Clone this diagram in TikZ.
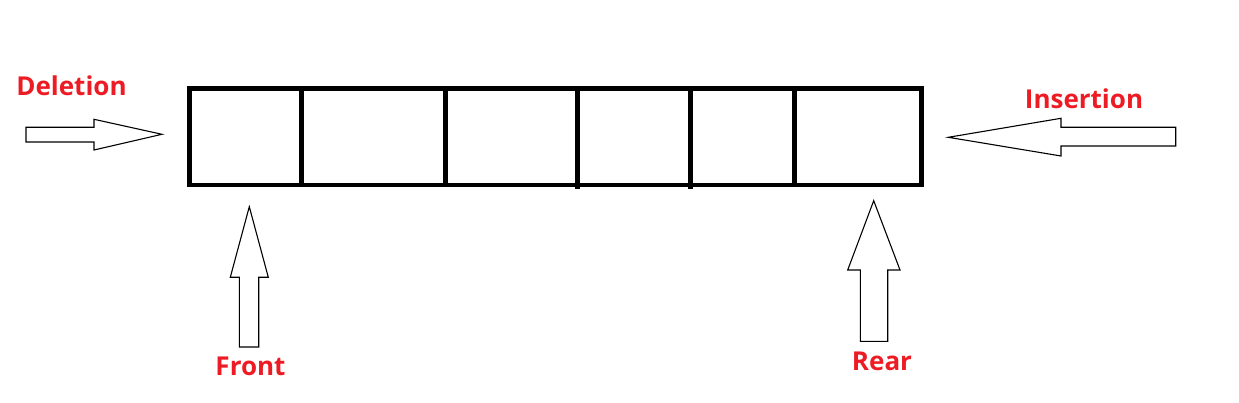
\documentclass[tikz,border=0pt]{standalone}
\usepackage{fontspec}
\setmainfont{Open Sans}
\definecolor{pred}{RGB}{237,28,36}
\begin{document}
\begin{tikzpicture}[x=1pt,y=-1pt,
  lbl/.style={text=pred,font=\fontsize{26}{30}\selectfont\bfseries,anchor=base,inner sep=0pt},
  cellline/.style={line width=4.6pt,line cap=rect},
  fatarrow/.style={draw=black,line width=1.1pt,fill=white,line join=miter}]
\useasboundingbox (0,0) rectangle (1239,403);
% queue
\draw[cellline] (189.7,88.3) rectangle (921.3,185.2);
\draw[cellline,line cap=butt] (301.5,88.3) -- (301.5,185.2);
\draw[cellline,line cap=butt] (445.3,88.3) -- (445.3,185.2);
\draw[cellline,line cap=butt] (577.7,88.3) -- (577.7,189.5);
\draw[cellline,line cap=butt] (690.3,88.3) -- (690.3,189.5);
\draw[cellline,line cap=butt] (794.3,88.3) -- (794.3,185.2);
% deletion arrow (right)
\draw[fatarrow] (26,127.3) -- (94,127.3) -- (94,119.3) -- (162,134.3) -- (94,150) -- (94,142) -- (26,142) -- cycle;
% insertion arrow (left)
\draw[fatarrow] (1175.7,127.3) -- (1061,127.3) -- (1061,118.3) -- (948.3,137.3) -- (1061,156) -- (1061,146) -- (1175.7,146) -- cycle;
% front arrow (up)
\draw[fatarrow] (239.3,347) -- (239.3,277.3) -- (230.3,277.3) -- (249.3,206.7) -- (268.3,277.3) -- (258.7,277.3) -- (258.7,347) -- cycle;
% rear arrow (up)
\draw[fatarrow] (860.3,341.3) -- (860.3,270) -- (847.7,270) -- (873.7,200.7) -- (900,270) -- (887.7,270) -- (887.7,341.3) -- cycle;
% labels
\node[lbl] (del) at (71.5,96) {Deletion};
\node[lbl] (ins) at (1084,108.3) {Insertion};
\node[lbl] (front) at (250.5,375.7) {Front};
\node[lbl] (rear) at (882,370.7) {Rear};
\end{tikzpicture}
\end{document}
